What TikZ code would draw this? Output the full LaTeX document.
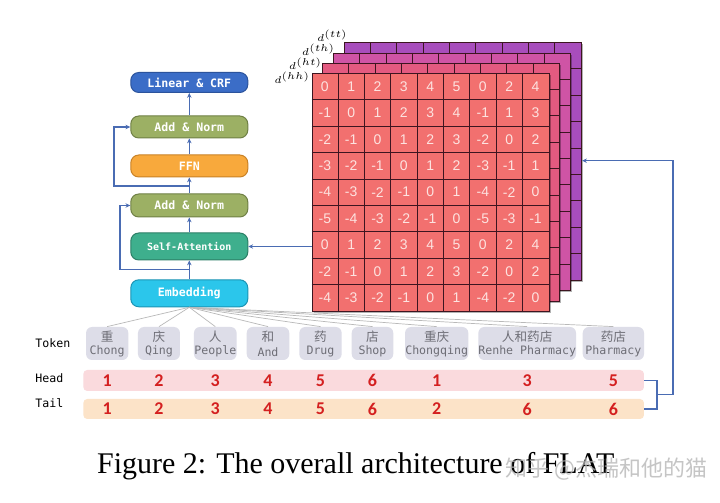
\documentclass[tikz,border=0pt]{standalone}
\usepackage{fontspec}
\setmainfont{Liberation Serif}
\newfontfamily\monof{DejaVu Sans Mono}
\newfontfamily\numf{Carlito}
\newfontfamily\cellf{Liberation Sans}
\newfontfamily\cjkf{Noto Sans CJK SC}
\usetikzlibrary{arrows.meta,calc}
\definecolor{linc}{HTML}{3B6DC7}\definecolor{linb}{HTML}{2B539C}
\definecolor{anc}{HTML}{9CB064}\definecolor{anb}{HTML}{6F8045}
\definecolor{ffnc}{HTML}{F8A93C}\definecolor{ffnb}{HTML}{C98226}
\definecolor{sac}{HTML}{3EAF8D}\definecolor{sab}{HTML}{2C7F66}
\definecolor{embc}{HTML}{2BC6EB}\definecolor{embb}{HTML}{1C94B4}
\definecolor{lblue}{HTML}{4A6CB3}
\definecolor{layA}{HTML}{F2706F}\definecolor{layB}{HTML}{E35A80}
\definecolor{layC}{HTML}{CF54A5}\definecolor{layD}{HTML}{A84DBC}
\definecolor{gridc}{HTML}{3D1520}
\definecolor{cellt}{HTML}{FDE3E0}
\definecolor{tokc}{HTML}{DDDDE8}
\definecolor{tokt}{HTML}{6E6E76}
\definecolor{headc}{HTML}{FADADD}
\definecolor{tailc}{HTML}{FCE3C8}
\definecolor{numc}{HTML}{D42020}
\begin{document}
\begin{tikzpicture}[x=0.5pt,y=-0.5pt,
  blk/.style={draw, line width=0.5pt, rounded corners=4pt, minimum width=58.5pt, inner sep=0pt, text=white, font=\monof\bfseries\fontsize{5.8}{7}\selectfont},
  ln/.style={draw=lblue, line width=0.6pt},
  arr/.style={ln, -{Stealth[length=2.4pt,width=2.2pt]}},
  layer/.style={draw=gridc, line width=0.5pt, minimum width=118.5pt, minimum height=118.85pt, inner sep=0pt},
  gridl/.style={draw=gridc, line width=0.4pt},
  cell/.style={text=cellt, font=\cellf\fontsize{7}{8}\selectfont, inner sep=0pt},
  tok/.style={fill=tokc, rounded corners=3pt, minimum height=16.5pt, inner sep=0pt},
  zh/.style={text=tokt, font=\cjkf\fontsize{6.3}{7}\selectfont, inner sep=0pt},
  en/.style={text=tokt, font=\monof\fontsize{5.8}{7}\selectfont, inner sep=0pt},
  rowl/.style={anchor=west, inner sep=0pt, font=\monof\fontsize{5.8}{7}\selectfont},
  num/.style={text=numc, font=\numf\bfseries\fontsize{9}{10}\selectfont, inner sep=0pt},
  fan/.style={draw=gray!55, line width=0.35pt},
  dlab/.style={anchor=east, inner sep=0pt, font=\fontsize{5.4}{6}\selectfont}
]
\useasboundingbox (0,0) rectangle (720,503);
\fill[white] (0,0) rectangle (720,503);

% ---------- matrix layers ----------
\foreach \k/\col in {3/layD,2/layC,1/layB,0/layA} {
  \pgfmathsetmacro\xo{311.7+10.8*\k}
  \pgfmathsetmacro\yo{73.3-10.3*\k}
  \fill[black,opacity=.3] (\xo+2,\yo+2) rectangle ++(237,237.7);
  \node[layer,fill=\col,anchor=north west] (L\k) at (\xo,\yo) {};
  \foreach \i in {1,...,8} {
    \draw[gridl] (\xo+\i*26.333,\yo) -- ++(0,237.7);
    \draw[gridl] (\xo,\yo+\i*26.411) -- ++(237,0);
  }
}
\foreach \r/\vals in {1/{0,1,2,3,4,5,0,2,4},2/{-1,0,1,2,3,4,-1,1,3},3/{-2,-1,0,1,2,3,-2,0,2},4/{-3,-2,-1,0,1,2,-3,-1,1},5/{-4,-3,-2,-1,0,1,-4,-2,0},6/{-5,-4,-3,-2,-1,0,-5,-3,-1},7/{0,1,2,3,4,5,0,2,4},8/{-2,-1,0,1,2,3,-2,0,2},9/{-4,-3,-2,-1,0,1,-4,-2,0}} {
  \foreach \v [count=\c] in \vals {
    \node[cell] (c\r-\c) at (311.7+\c*26.333-13.17, 73.3+\r*26.411-13.2) {\v};
  }
}
\node[dlab] (dhh) at (310.5,77.5) {$d^{(hh)}$};
\node[dlab] (dht) at (322.5,63.5) {$d^{(ht)}$};
\node[dlab] (dth) at (335.5,49.5) {$d^{(th)}$};
\node[dlab] (dtt) at (348,35.5) {$d^{(tt)}$};

% ---------- left column ----------
\node[blk, fill=linc, draw=linb, minimum height=10pt] (lin) at (189.3,82.5) {Linear \& CRF};
\node[blk, fill=anc, draw=anb, minimum height=11pt] (an2) at (189.3,127) {Add \& Norm};
\node[blk, fill=ffnc, draw=ffnb, minimum height=11pt] (ffn) at (189.3,166) {FFN};
\node[blk, fill=anc, draw=anb, minimum height=11.5pt] (an1) at (189.3,205.5) {Add \& Norm};
\node[blk, fill=sac, draw=sab, minimum height=13.5pt, font=\monof\bfseries\fontsize{5}{6}\selectfont] (sa) at (189.3,246.5) {Self-Attention};
\node[blk, fill=embc, draw=embb, minimum height=13.5pt] (emb) at (189.3,293.3) {Embedding};

\draw[arr] (emb) -- (sa);
\draw[arr] (sa) -- (an1);
\draw[arr] (an1) -- (ffn);
\draw[arr] (ffn) -- (an2);
\draw[arr] (an2) -- (lin);
\coordinate (j1) at (189.3,269.5);
\coordinate (j2) at (189.3,186);
\draw[arr] (j1) -- (120,269.5) |- (an1.west);
\draw[arr] (j2) -- (114,186) |- (an2.west);
\draw[arr] (L0.west |- sa.east) -- (sa.east);

% ---------- tokens ----------
\node[rowl] (ltok) at (35,342.7) {Token};
\node[rowl] (lhead) at (35,378) {Head};
\node[rowl] (ltail) at (35,403.3) {Tail};

\node[fill=headc, rounded corners=2pt, minimum width=280.35pt, minimum height=10.5pt, inner sep=0pt] (hrow) at (363.65,380.5) {};
\node[fill=tailc, rounded corners=2pt, minimum width=280.35pt, minimum height=10pt, inner sep=0pt] (trow) at (363.65,409) {};

\foreach \i/\cx/\w/\z/\e/\h/\t in {1/107.2/21.15/重/Chong/1/1, 2/159/21/庆/Qing/2/2, 3/215.3/21.35/人/People/3/3, 4/268/21.3/和/And/4/4, 5/320.5/21.2/药/Drug/5/5, 6/372.5/20.8/店/Shop/6/6, 7/436.7/31.65/重庆/Chongqing/1/2, 8/527.2/48.85/人和药店/Renhe Pharmacy/3/6, 9/613.4/30.65/药店/Pharmacy/5/6} {
  \node[tok, minimum width=\w pt] (t\i) at (\cx,343.5) {};
  \node[zh] (z\i) at (\cx,336.5) {\z};
  \node[en] (e\i) at (\cx,351.7) {\e};
  \node[num] (h\i) at (\cx,380.5) {\h};
  \node[num] (tt\i) at (\cx,409) {\t};
}
\foreach \i in {1,...,9} { \draw[fan] (emb.south) -- (t\i.north); }

% ---------- head/tail to matrix ----------
\coordinate (bm) at (657,394.75);
\draw[ln] (hrow.east) -- (657,380.5) |- (trow.east);
\draw[arr] (bm) -- (673,394.75) |- (L3.east |- 0,160.7);

% ---------- caption ----------
\node[anchor=base west, inner sep=0pt, font=\fontsize{15}{18}\selectfont] (cap) at (96.7,473.3) {Figure 2: The overall architecture of FLAT};
\node[anchor=west, inner sep=0pt, text=gray!60, opacity=.75, font=\cjkf\fontsize{11}{12}\selectfont] (wm) at (505,469) {知乎 @杰瑞和他的猫};
\end{tikzpicture}
\end{document}
